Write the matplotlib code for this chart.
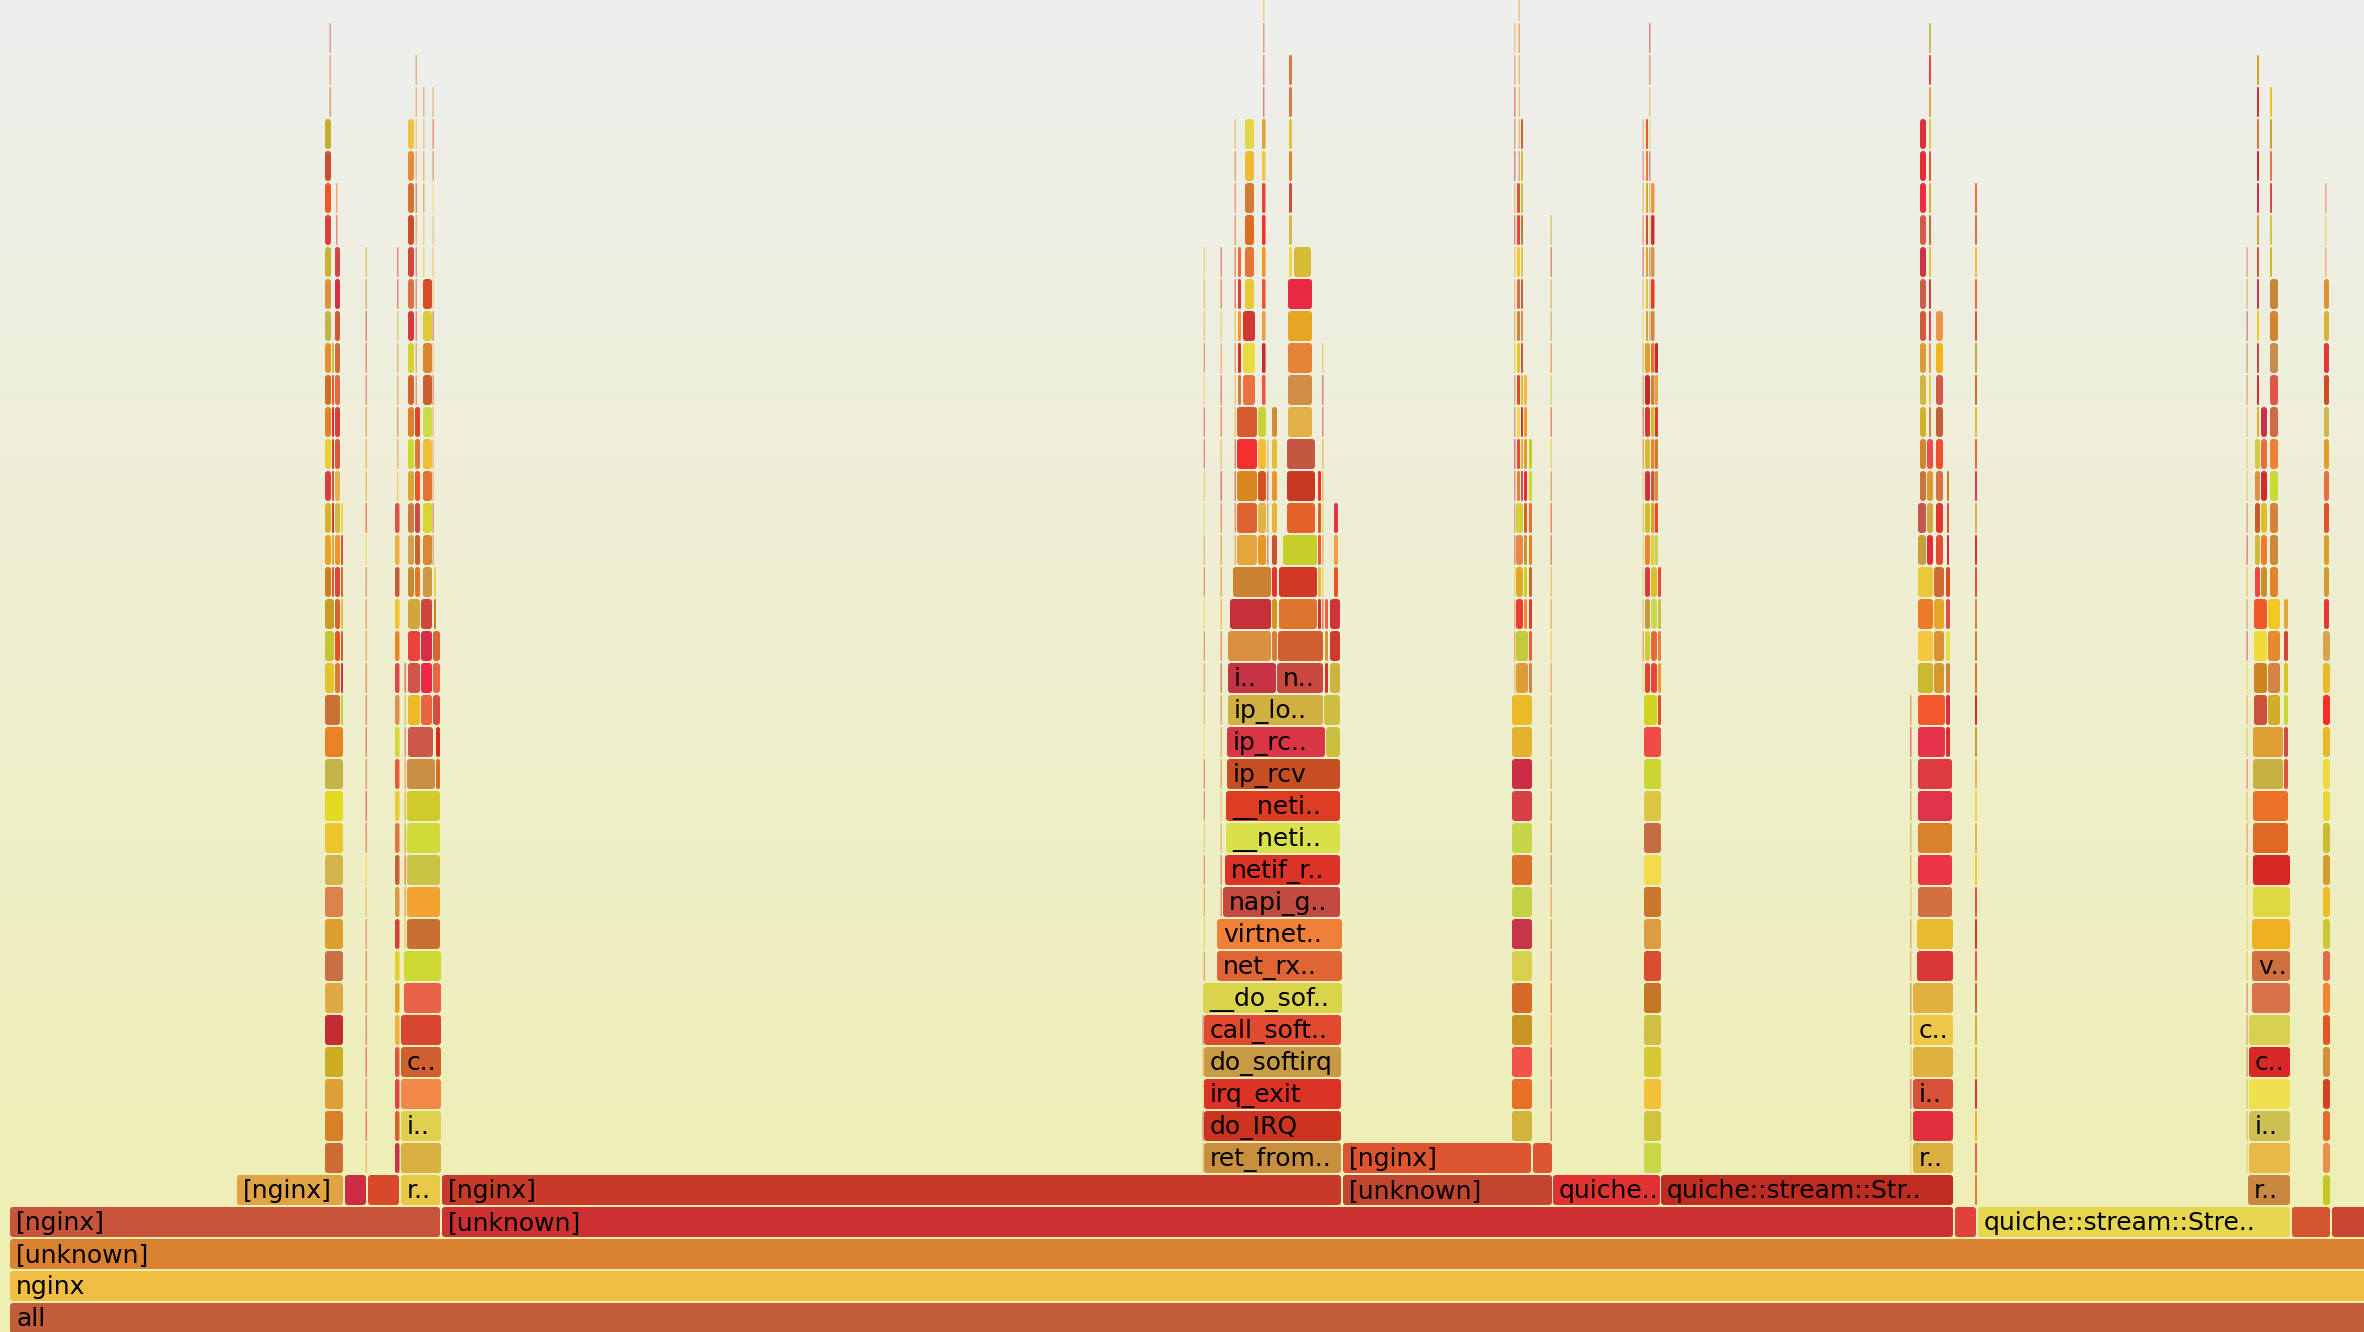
import matplotlib
matplotlib.use("Agg")
import matplotlib.pyplot as plt
from matplotlib.patches import FancyBboxPatch
import numpy as np

# labelled / wide frames: stack depth, first sample, end sample, name
frame_depth = [0, 1, 2,
               3, 3, 3, 3, 3, 3,
               4, 4, 4, 4, 4, 4, 4, 4, 4,
               5, 6, 7, 8, 9, 10, 11, 12, 13, 14, 15, 16, 17, 18, 18, 19, 19, 20, 20, 21, 21,
               5, 5,
               5, 6, 7, 8, 9,
               5, 6, 7, 8, 9, 10,
               5, 6, 7, 8, 9, 10, 11]
frame_start = [10, 10, 10,
               10, 442, 1955, 1978, 2292, 2332,
               237, 345, 368, 401, 442, 1343, 1553, 1661, 2248,
               1204, 1204, 1204, 1204, 1204, 1203, 1217, 1217, 1223, 1225, 1226, 1226, 1227, 1227, 1326,
               1228, 1324, 1228, 1277, 1228, 1278,
               1343, 1533,
               401, 401, 401, 401, 401,
               1913, 1913, 1913, 1913, 1913, 1913,
               2249, 2249, 2249, 2249, 2249, 2252, 2252]
frame_end = [2400, 2400, 2400,
             440, 1953, 1976, 2290, 2330, 2400,
             343, 366, 399, 440, 1341, 1552, 1660, 1953, 2290,
             1341, 1341, 1341, 1341, 1341, 1342, 1342, 1342, 1340, 1340, 1340, 1340, 1340, 1325, 1340,
             1323, 1340, 1276, 1323, 1271, 1323,
             1531, 1552,
             441, 441, 441, 441, 441,
             1953, 1953, 1953, 1953, 1953, 1953,
             2290, 2290, 2290, 2290, 2290, 2290, 2290]
frame_label = ["all", "nginx", "[unknown]",
               "[nginx]", "[unknown]", "", "quiche::stream::Stre..", "", "",
               "[nginx]", "", "", "r..", "[nginx]", "[unknown]", "quiche..", "quiche::stream::Str..", "r..",
               "ret_from..", "do_IRQ", "irq_exit", "do_softirq", "call_soft..", "__do_sof..", "net_rx..",
               "virtnet..", "napi_g..", "netif_r..", "__neti..", "__neti..", "ip_rcv", "ip_rc..", "",
               "ip_lo..", "", "i..", "n..", "", "",
               "[nginx]", "",
               "", "i..", "", "c..", "",
               "r..", "", "i..", "", "c..", "",
               "", "i..", "", "c..", "", "", "v.."]
frame_color = ["#c15e39", "#efbe43", "#d98331",
               "#c8553a", "#cc3132", "#e0413b", "#e6d54f", "#d35631", "#cb4533",
               "#e0a444", "#cd2d42", "#d8482a", "#e8c845", "#c83a28", "#c1462d", "#e03232", "#bf2c22", "#c9873f",
               "#c8903e", "#cc3422", "#dd3326", "#c99a45", "#e04a2e", "#d9d44a", "#df6535",
               "#ee8038", "#c24a40", "#dd3228", "#dae04a", "#dc3d22", "#c74e22", "#d93545", "#c9c040",
               "#cfb040", "#cdc040", "#c53344", "#c84840", "#d99040", "#d06030",
               "#dc5530", "#dd5535",
               "#d8b040", "#e0d050", "#f08848", "#d06030", "#d84530",
               "#dab040", "#e03040", "#d85038", "#e0b040", "#f0c848", "#e0b040",
               "#e8b848", "#ccc050", "#f0e050", "#d82828", "#d8d050", "#d87048", "#d07040"]

# narrow towers: runs of frames with equal span (start, end, lowest depth, highest depth)
tower_cols = [
    (325, 343, 5, 18), (325, 340, 19, 19), (341, 343, 19, 25), (325, 334, 20, 22),
    (335, 340, 20, 25), (325, 331, 23, 37), (332, 334, 23, 30), (335, 340, 26, 33),
    (336, 337.5, 34, 35), (329.5, 331, 38, 40),
    (365.5, 367, 5, 33),
    (395, 399.5, 5, 25), (397, 398.5, 26, 33),
    (404, 441, 10, 11), (404.5, 406, 12, 20), (407, 440, 12, 16), (407, 435, 17, 17),
    (436, 440, 17, 18), (408, 433, 18, 18), (408, 420, 19, 22), (421, 432, 19, 22),
    (433, 440, 19, 21), (434, 436, 22, 23), (408, 414, 23, 37), (415, 420, 23, 28),
    (423, 432, 23, 32), (432.5, 433.8, 24, 38), (415.5, 417, 29, 39), (423, 424.5, 33, 38),
    (1202.5, 1203.7, 5, 9), (1203.7, 1205, 11, 33), (1220.5, 1222, 13, 33),
    (1230, 1271, 22, 22), (1233, 1271, 23, 23), (1234.5, 1236, 24, 37), (1237, 1257, 24, 28),
    (1258, 1266, 24, 28), (1243, 1255, 29, 31), (1245, 1254, 32, 37), (1238, 1241, 29, 33),
    (1262, 1265.5, 29, 37), (1263, 1264.5, 38, 41), (1272, 1277, 21, 28), (1279, 1317, 22, 23),
    (1283, 1317, 24, 24), (1287, 1315, 25, 27), (1288, 1312, 28, 32), (1289, 1292, 33, 39),
    (1294, 1311, 33, 33), (1318, 1321, 22, 26), (1322, 1323.5, 22, 30), (1325, 1328, 20, 22),
    (1330, 1340, 20, 22), (1334, 1338, 23, 25), (1267, 1268.5, 24, 27),
    (1512, 1532, 6, 19), (1516, 1528, 20, 21), (1529, 1532, 20, 27), (1516, 1523, 22, 25),
    (1524, 1527, 22, 29), (1517, 1520, 26, 35), (1521, 1523, 26, 37), (1518.5, 1520, 36, 41),
    (1514, 1515.5, 20, 40), (1550.5, 1552, 6, 34),
    (1644, 1661, 5, 18), (1644, 1657, 19, 19), (1658, 1661, 19, 23), (1645, 1650, 20, 30),
    (1651, 1657, 20, 23), (1651, 1654.5, 24, 35), (1655, 1658, 24, 30), (1646, 1648, 31, 37),
    (1649, 1650.5, 31, 40), (1642.5, 1643.8, 20, 37),
    (1910, 1911.5, 5, 19), (1917, 1953, 11, 12), (1918, 1952, 13, 17), (1918, 1945, 18, 19),
    (1946, 1950, 18, 23), (1918, 1933, 20, 23), (1934, 1944, 20, 23), (1918, 1926, 24, 25),
    (1927, 1933, 24, 27), (1936, 1943, 24, 31), (1920, 1926, 26, 37), (1929, 1931, 28, 40),
    (1947, 1949, 24, 26), (1975, 1977, 4, 35),
    (2246.5, 2247.8, 5, 33), (2252, 2290, 12, 12), (2253, 2290, 13, 14), (2253, 2288, 15, 16),
    (2253, 2283, 17, 18), (2284, 2288, 17, 22), (2254, 2267, 19, 22), (2268, 2280, 19, 22),
    (2255, 2260, 23, 27), (2261, 2267, 23, 28), (2270, 2278, 23, 32), (2257, 2259, 28, 39),
    (2270, 2272, 33, 38), (2323, 2330, 4, 21), (2324, 2329, 22, 32), (2325, 2326.5, 33, 35),
]

ROW = 32.0          # pixels per stack level
BOX = 30.0 / ROW    # frame height inside a level
W, H = 2364, 1332


def hot(seed):
    # muted "hot" palette, picked by a hash of the frame position
    h = seed & 0xffffffff
    h = (((h >> 16) ^ h) * 0x45d9f3b) & 0xffffffff
    h = (((h >> 16) ^ h) * 0x45d9f3b) & 0xffffffff
    h = (h >> 16) ^ h
    v1 = (h & 255) / 255.0
    v2 = ((h >> 8) & 255) / 255.0
    v3 = ((h >> 16) & 255) / 255.0
    return ((195 + 50 * v3) / 255, (40 + 180 * v1) / 255, (32 + 45 * v2) / 255)


fig = plt.figure(figsize=(W / 100, H / 100), dpi=100)
ax = fig.add_axes([0, 0, 1, 1])

y0, y1 = 1 / ROW, (H + 1) / ROW
grad = np.linspace(0, 1, 256)[:, None, None]
top = np.array([0xee, 0xee, 0xee]) / 255.0
bot = np.array([0xee, 0xee, 0xb0]) / 255.0
ax.imshow(top * (1 - grad) + bot * grad, extent=[0, W, y0, y1],
          aspect='auto', origin='upper', zorder=0)


def frame(x0, x1, d, color):
    w = x1 - x0
    r = min(3.0, w / 2.0)
    a = 0.6 if w < 2 else 1.0
    ax.add_patch(FancyBboxPatch((x0, d), w, BOX,
                                boxstyle="round,pad=0,rounding_size=%g" % r,
                                mutation_aspect=1 / ROW, fc=color, ec='none',
                                alpha=a, zorder=2))


for d, s, e, lab, c in zip(frame_depth, frame_start, frame_end, frame_label, frame_color):
    frame(s, e, d, c)
    if lab:
        ax.text(s + 6, d + 7 / ROW, lab, fontsize=18, family='DejaVu Sans',
                color='black', ha='left', va='baseline', zorder=3)

for s, e, d0, d1 in tower_cols:
    for d in range(d0, d1 + 1):
        frame(s, e, d, hot(int(s * 10) * 97 + d * 7919))

ax.set_xlim(0, W)
ax.set_ylim(y0, y1)
ax.axis('off')
fig.savefig("out.png", dpi=100)
